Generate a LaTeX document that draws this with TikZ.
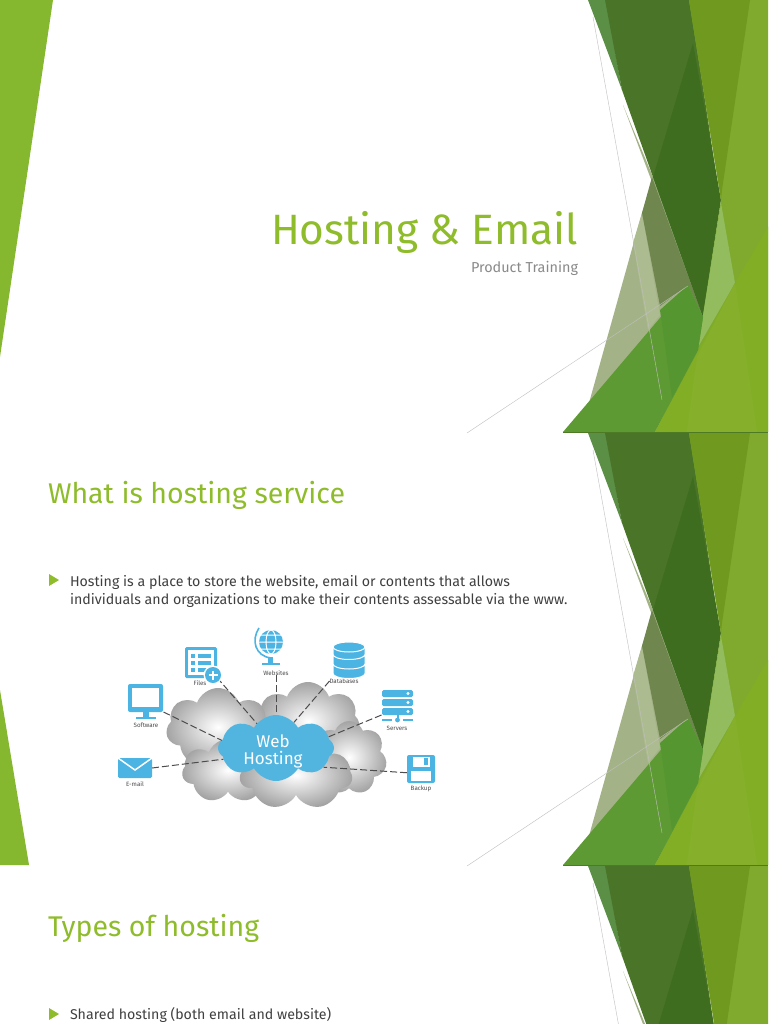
\documentclass[tikz,border=0pt]{standalone}
\usepackage{fontspec}
\setmainfont{Fira Sans}
\usetikzlibrary{shapes.symbols}
\definecolor{titlegreen}{HTML}{8FBC2B}
\definecolor{bodygrey}{HTML}{404040}
\definecolor{subgrey}{HTML}{8A8A8A}
\definecolor{iconblue}{HTML}{4BB4E3}
\definecolor{hostblue}{HTML}{52B5E0}
\definecolor{sagea}{HTML}{A4B387}
\definecolor{sageb}{HTML}{ADBB90}
\definecolor{sagec}{HTML}{70864F}
\definecolor{foresta}{HTML}{5B8F45}
\definecolor{forestb}{HTML}{4A7529}
\definecolor{forestc}{HTML}{3F6D1F}
\definecolor{olivea}{HTML}{6F9A1F}
\definecolor{oliveb}{HTML}{7FAA2E}
\definecolor{palea}{HTML}{92BC5E}
\definecolor{grassa}{HTML}{5E9A33}
\definecolor{grassb}{HTML}{569630}
\definecolor{brighta}{HTML}{82AE25}
\definecolor{brightb}{HTML}{86B02B}
\definecolor{sidegreen}{HTML}{86B82F}
\definecolor{sillgreen}{HTML}{4F7A25}
\begin{document}
\begin{tikzpicture}[
  x=1pt,y=-1pt,
  every node/.style={inner sep=0pt,outer sep=0pt},
  title/.style={anchor=base west,text=titlegreen,font=\fontsize{28.5}{30}\selectfont},
  body/.style={anchor=base west,text=bodygrey,font=\fontsize{14.2}{16}\selectfont},
  bullet/.style={fill=titlegreen},
  seam/.style={draw=black!25,line width=.4pt},
  greycloud/.style={
    cloud,cloud puffs=7,cloud puff arc=140,
    shading=radial,inner color=white,outer color=black!36,
  },
  hostcloud/.style={
    cloud,cloud puffs=8,cloud puff arc=120,fill=hostblue,
    minimum width=116pt,minimum height=66pt,
  },
  tag/.style={text=black!70,font=\fontsize{6.2}{7}\selectfont},
  link/.style={draw=black!70,line width=1pt,dash pattern=on 7pt off 3pt},
  icon/.style={fill=iconblue},
  cutout/.style={fill=white},
  ]
  \clip (0,0) rectangle (768,1024);
  \fill[white] (0,0) rectangle (768,1024);

  \foreach \sy in {0,433,866}{
    \begin{scope}[shift={(0,\sy)}]
      \fill[sagea] (623,105) -- (652,182) -- (642,213) -- (589,403) -- (565,432) -- (703,317) -- (653,177) -- cycle;
      \fill[sageb] (642,213) -- (660,315) -- (648,330) -- (633,243) -- cycle;
      \fill[sagec] (652,177) -- (703,317) -- (688,285) -- (660,306) -- (642,213) -- cycle;
      \fill[foresta] (588,0) -- (606,0) -- (622,90) -- cycle;
      \fill[forestb] (605,0) -- (690,0) -- (720,200) -- (703,317) -- (653,177) -- (622,90) -- cycle;
      \fill[forestc] (693,43) -- (653,177) -- (703,317) -- (721,200) -- cycle;
      \fill[oliveb] (689,0) -- (768,0) -- (768,432) -- (655,432) -- (698,347) -- (721,200) -- cycle;
      \fill[olivea] (689,0) -- (750,0) -- (722,190) -- (721,200) -- cycle;
      \fill[palea] (721,203) -- (735,283) -- (698,347) -- cycle;
      \fill[grassa] (688,285) -- (703,317) -- (698,350) -- (655,432) -- (563,432) -- cycle;
      \fill[grassb] (660,310) -- (688,285) -- (703,317) -- (698,350) -- (672,398) -- cycle;
      \fill[brighta] (768,227) -- (768,432) -- (655,432) -- (735,283) -- cycle;
      \fill[brightb] (697,357) -- (735,283) -- (757,432) -- (687,432) -- cycle;
      \draw[seam] (593,17) -- (662,400);
      \draw[seam] (467,433) -- (688,286);
      \draw[sillgreen,line width=.7pt] (563,432.5) -- (768,432.5);
    \end{scope}
  }
  \fill[sidegreen] (0,0) -- (53,0) -- (0,357) -- cycle;
  \fill[sidegreen] (0,690) -- (29,865) -- (0,865) -- cycle;

  \node[anchor=base east,text=titlegreen,font=\fontsize{42.4}{44}\selectfont] (maintitle) at (578,244) {Hosting \& Email};
  \node[anchor=base east,text=subgrey,font=\fontsize{14.4}{16}\selectfont] (subtitle) at (578,272) {Product Training};
  \node[title] (whatis) at (48,503) {What is hosting service};
  \node[title] (types) at (48,936) {Types of hosting};
  \fill[bullet] (49,574) -- (59,580) -- (49,586) -- cycle;
  \node[body] (hostinga) at (70,586) {Hosting is a place to store the website, email or contents that allows};
  \node[body] (hostingb) at (70,604) {individuals and organizations to make their contents assessable via the www.};
  \fill[bullet] (49,1008) -- (59,1014) -- (49,1020) -- cycle;
  \node[body] (shared) at (70,1019) {Shared hosting (both email and website)};

  \node[greycloud,minimum width=104pt,minimum height=80pt] (cloudb) at (308,722) {};
  \node[greycloud,minimum width=76pt,minimum height=74pt] (cloudc) at (349,758) {};
  \node[greycloud,minimum width=104pt,minimum height=80pt] (clouda) at (218,728) {};
  \node[greycloud,minimum width=92pt,minimum height=64pt] (cloudd) at (228,771) {};
  \node[greycloud,minimum width=112pt,minimum height=68pt] (cloude) at (296,776) {};
  \node[hostcloud] (webhost) at (276,748) {};
  \node[text=white,font=\fontsize{17}{20}\selectfont] (webtext) at (273,741) {Web};
  \node[text=white,font=\fontsize{17}{20}\selectfont] (hostingtext) at (273,760) {Hosting};

  \node[minimum width=35pt,minimum height=28pt] (software) at (146,698) {};
  \node[minimum width=32pt,minimum height=31pt] (files) at (201,662) {};
  \node[minimum width=32pt,minimum height=35pt] (database) at (349,659) {};
  \node[minimum width=31pt,minimum height=26pt] (servers) at (397,702) {};
  \node[minimum width=28pt,minimum height=28pt] (backup) at (421,769) {};
  \node[minimum width=34pt,minimum height=20pt] (email) at (135,768) {};
  \node[tag] (softwarelabel) at (146,725) {Software};
  \node[tag] (fileslabel) at (200,683) {Files};
  \node[tag] (websiteslabel) at (276,673) {Websites};
  \node[tag] (databaseslabel) at (344,681) {Databases};
  \node[tag] (serverslabel) at (397,728) {Servers};
  \node[tag] (backuplabel) at (421,789) {Backup};
  \node[tag] (emaillabel) at (135,784) {E-mail};

  \draw[link] (software.south east) -- (webhost.172);
  \draw[link] (files.south east) -- (webhost.128);
  \draw[link] (websiteslabel.south) -- (webhost.90);
  \draw[link] (databaseslabel.west) -- (webhost.55);
  \draw[link] (servers.south west) -- (webhost.12);
  \draw[link] (backup.195) -- (webhost.338);
  \draw[link] (email.east) -- (webhost.192);

  \fill[icon,rounded corners=2pt] (128,684) rectangle (163,712);
  \fill[cutout] (132,688) rectangle (159,707);
  \fill[icon] (143,712) rectangle (149,717);
  \fill[icon] (136,717) rectangle (156,719);

  \fill[icon,rounded corners=1.5pt] (185,647) rectangle (217,678);
  \fill[cutout] (188,650) rectangle (214,675);
  \foreach \ly in {654,661,668}{
    \fill[icon] (191,\ly) rectangle (195,\ly+4);
    \fill[icon] (198,\ly) rectangle (211,\ly+4);
  }
  \fill[cutout] (213,675) circle (9.5);
  \fill[icon] (213,675) circle (8);
  \fill[cutout] (208.5,673.7) rectangle (217.5,676.3);
  \fill[cutout] (211.7,670.5) rectangle (214.3,679.5);

  \fill[icon] (271,642) circle (12);
  \draw[white,line width=1pt] (271,642) ellipse (5 and 12) (259,642) -- (283,642) (261,635) -- (281,635) (261,649) -- (281,649);
  \draw[iconblue,line width=1.6pt] (259,628) .. controls (251,640) and (255,656) .. (271,658);
  \fill[icon] (268,657) rectangle (273,663);
  \fill[icon] (262,663) rectangle (280,665);

  \foreach \dy in {666,656.5,647}{
    \draw[draw=white,fill=iconblue,line width=1pt] (333,\dy) -- (333,\dy+7.5) arc (180:0:16 and 5) -- (365,\dy) arc (0:-180:16 and 5) -- cycle;
  }
  \draw[white,line width=1pt] (333,647) arc (180:0:16 and 5);

  \foreach \ry in {690,699,708}{
    \fill[icon,rounded corners=1.5pt] (382,\ry) rectangle (413,\ry+7);
    \fill[cutout] (408,\ry+3.5) circle (1.6);
  }
  \fill[icon] (396.5,715) rectangle (398.5,720);
  \fill[icon] (382,719) rectangle (392,721);
  \fill[icon] (403,719) rectangle (413,721);
  \fill[icon] (397.5,720) circle (2.4);

  \fill[icon,rounded corners=2pt] (407,755) rectangle (435,783);
  \fill[cutout] (413,757) rectangle (430,767);
  \fill[icon] (424,758) rectangle (428,765);
  \fill[cutout] (411,771) rectangle (431,781);

  \fill[icon,rounded corners=1.5pt] (118,758) rectangle (152,778);
  \draw[draw=white,line width=1.5pt] (118,758) -- (135,770) -- (152,758);
\end{tikzpicture}
\end{document}
